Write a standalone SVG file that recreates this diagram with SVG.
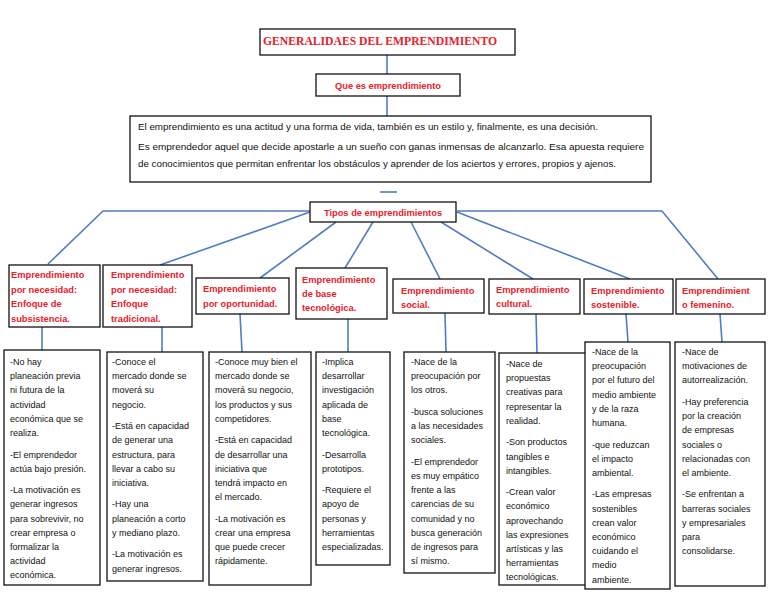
<svg xmlns="http://www.w3.org/2000/svg" width="768" height="594" viewBox="0 0 768 594">
<style>
rect{fill:#fff;stroke:#111;stroke-width:1.3}
.c line,.c polyline{stroke:#4f7cc4;stroke-width:1.6;fill:none}
.h{font-family:"Liberation Sans",Arial,sans-serif;font-weight:bold;font-size:9.3px;fill:#e8202a}
.t{font-family:"Liberation Sans",Arial,sans-serif;font-size:9px;fill:#111}
</style>
<rect x="0" y="0" width="768" height="594" style="stroke:none"/>
<g class="c">
<line x1="387" y1="55" x2="387" y2="74"/>
<line x1="387" y1="96" x2="387" y2="116"/>
<line x1="380" y1="192" x2="397" y2="192"/>
<polyline points="310,211 103,211 48,264"/>
<line x1="310" y1="212" x2="160" y2="265"/>
<line x1="336" y1="222" x2="260" y2="278"/>
<line x1="373" y1="222" x2="345" y2="268"/>
<line x1="411" y1="222" x2="440" y2="279"/>
<line x1="441" y1="222" x2="533" y2="279"/>
<line x1="457" y1="212" x2="630" y2="279"/>
<polyline points="457,211 662,211 718,279"/>
<line x1="42" y1="327" x2="42" y2="350"/>
<line x1="162" y1="327" x2="162" y2="352"/>
<line x1="240" y1="314" x2="242" y2="352"/>
<line x1="348" y1="319" x2="348" y2="352"/>
<line x1="445" y1="313" x2="446" y2="352"/>
<line x1="536" y1="314" x2="537" y2="353"/>
<line x1="626" y1="314" x2="628" y2="342"/>
<line x1="720" y1="314" x2="722" y2="342"/>
</g>
<g id="title"><rect x="260" y="29" width="255" height="26"/>
<text x="263" y="45" textLength="234" lengthAdjust="spacingAndGlyphs" style="font-family:'Liberation Serif',serif;font-weight:bold;font-size:11.5px;fill:#e8202a">GENERALIDAES DEL EMPRENDIMIENTO</text></g>
<g id="que"><rect x="316" y="74" width="144" height="22"/>
<text class="h" x="388" y="89" text-anchor="middle">Que es emprendimiento</text></g>
<g id="def"><rect x="130" y="116" width="521" height="66"/>
<text class="t" x="138" y="130" textLength="460" lengthAdjust="spacingAndGlyphs">El emprendimiento es una actitud y una forma de vida, también es un estilo y, finalmente, es una decisión.</text>
<text class="t" x="138" y="150" textLength="506" lengthAdjust="spacingAndGlyphs">Es emprendedor aquel que decide apostarle a un sueño con ganas inmensas de alcanzarlo. Esa apuesta requiere</text>
<text class="t" x="138" y="167" textLength="478" lengthAdjust="spacingAndGlyphs">de conocimientos que permitan enfrentar los obstáculos y aprender de los aciertos y errores, propios y ajenos.</text></g>
<g id="tipos"><rect x="310" y="202" width="146" height="20"/>
<text class="h" x="383" y="216" text-anchor="middle">Tipos de emprendimientos</text></g>

<g id="h1"><rect x="9" y="265" width="91" height="62"/>
<text class="h" x="11" y="278"><tspan x="11">Emprendimiento</tspan><tspan x="11" dy="14.5">por necesidad:</tspan><tspan x="11" dy="14.5">Enfoque de</tspan><tspan x="11" dy="14.5">subsistencia.</tspan></text></g>
<g id="h2"><rect x="103" y="265" width="89" height="62"/>
<text class="h" x="113" y="278"><tspan x="111">Emprendimiento</tspan><tspan x="111" dy="14.5">por necesidad:</tspan><tspan x="111" dy="14.5">Enfoque</tspan><tspan x="111" dy="14.5">tradicional.</tspan></text></g>
<g id="h3"><rect x="196" y="278" width="93" height="36"/>
<text class="h" y="292"><tspan x="203">Emprendimiento</tspan><tspan x="203" dy="14.5">por oportunidad.</tspan></text></g>
<g id="h4"><rect x="296" y="268" width="91" height="51"/>
<text class="h" y="283"><tspan x="302">Emprendimiento</tspan><tspan x="302" dy="14">de base</tspan><tspan x="302" dy="14">tecnológica.</tspan></text></g>
<g id="h5"><rect x="393" y="279" width="91" height="34"/>
<text class="h" y="294"><tspan x="401">Emprendimiento</tspan><tspan x="401" dy="14">social.</tspan></text></g>
<g id="h6"><rect x="489" y="279" width="91" height="35"/>
<text class="h" y="293"><tspan x="496">Emprendimiento</tspan><tspan x="496" dy="13.5">cultural.</tspan></text></g>
<g id="h7"><rect x="584" y="279" width="89" height="35"/>
<text class="h" y="294"><tspan x="591">Emprendimiento</tspan><tspan x="591" dy="14">sostenible.</tspan></text></g>
<g id="h8"><rect x="676" y="279" width="89" height="35"/>
<text class="h" y="294"><tspan x="682">Emprendimient</tspan><tspan x="682" dy="14">o femenino.</tspan></text></g>

<g id="d1"><rect x="4" y="350" width="96" height="235"/>
<text class="t" y="365"><tspan x="10">-No hay</tspan><tspan x="10" dy="14.2">planeación previa</tspan><tspan x="10" dy="14.2">ni futura de la</tspan><tspan x="10" dy="14.2">actividad</tspan><tspan x="10" dy="14.2">económica que se</tspan><tspan x="10" dy="14.2">realiza.</tspan><tspan x="10" dy="21.5">-El emprendedor</tspan><tspan x="10" dy="14.2">actúa bajo presión.</tspan><tspan x="10" dy="21.5">-La motivación es</tspan><tspan x="10" dy="14.2">generar ingresos</tspan><tspan x="10" dy="14.2">para sobrevivir, no</tspan><tspan x="10" dy="14.2">crear empresa o</tspan><tspan x="10" dy="14.2">formalizar la</tspan><tspan x="10" dy="14.2">actividad</tspan><tspan x="10" dy="14.2">económica.</tspan></text></g>
<g id="d2"><rect x="107" y="352" width="96" height="229"/>
<text class="t" y="365"><tspan x="112">-Conoce el</tspan><tspan x="112" dy="14.2">mercado donde se</tspan><tspan x="112" dy="14.2">moverá su</tspan><tspan x="112" dy="14.2">negocio.</tspan><tspan x="112" dy="21.5">-Está en capacidad</tspan><tspan x="112" dy="14.2">de generar una</tspan><tspan x="112" dy="14.2">estructura, para</tspan><tspan x="112" dy="14.2">llevar a cabo su</tspan><tspan x="112" dy="14.2">iniciativa.</tspan><tspan x="112" dy="21.5">-Hay una</tspan><tspan x="112" dy="14.2">planeación a corto</tspan><tspan x="112" dy="14.2">y mediano plazo.</tspan><tspan x="112" dy="21.5">-La motivación es</tspan><tspan x="112" dy="14.2">generar ingresos.</tspan></text></g>
<g id="d3"><rect x="209" y="352" width="102" height="233"/>
<text class="t" y="365"><tspan x="215">-Conoce muy bien el</tspan><tspan x="215" dy="14.2">mercado donde se</tspan><tspan x="215" dy="14.2">moverá su negocio,</tspan><tspan x="215" dy="14.2">los productos y sus</tspan><tspan x="215" dy="14.2">competidores.</tspan><tspan x="215" dy="21.5">-Está en capacidad</tspan><tspan x="215" dy="14.2">de desarrollar una</tspan><tspan x="215" dy="14.2">iniciativa que</tspan><tspan x="215" dy="14.2">tendrá impacto en</tspan><tspan x="215" dy="14.2">el mercado.</tspan><tspan x="215" dy="21.5">-La motivación es</tspan><tspan x="215" dy="14.2">crear una empresa</tspan><tspan x="215" dy="14.2">que puede crecer</tspan><tspan x="215" dy="14.2">rápidamente.</tspan></text></g>
<g id="d4"><rect x="316" y="352" width="74" height="213"/>
<text class="t" y="365"><tspan x="322">-Implica</tspan><tspan x="322" dy="14.2">desarrollar</tspan><tspan x="322" dy="14.2">investigación</tspan><tspan x="322" dy="14.2">aplicada de</tspan><tspan x="322" dy="14.2">base</tspan><tspan x="322" dy="14.2">tecnológica.</tspan><tspan x="322" dy="21.5">-Desarrolla</tspan><tspan x="322" dy="14.2">prototipos.</tspan><tspan x="322" dy="21.5">-Requiere el</tspan><tspan x="322" dy="14.2">apoyo de</tspan><tspan x="322" dy="14.2">personas y</tspan><tspan x="322" dy="14.2">herramientas</tspan><tspan x="322" dy="14.2">especializadas.</tspan></text></g>
<g id="d5"><rect x="404" y="352" width="91" height="221"/>
<text class="t" y="365"><tspan x="411">-Nace de la</tspan><tspan x="411" dy="14.2">preocupación por</tspan><tspan x="411" dy="14.2">los otros.</tspan><tspan x="411" dy="21.5">-busca soluciones</tspan><tspan x="411" dy="14.2">a las necesidades</tspan><tspan x="411" dy="14.2">sociales.</tspan><tspan x="411" dy="21.5">-El emprendedor</tspan><tspan x="411" dy="14.2">es muy empático</tspan><tspan x="411" dy="14.2">frente a las</tspan><tspan x="411" dy="14.2">carencias de su</tspan><tspan x="411" dy="14.2">comunidad y no</tspan><tspan x="411" dy="14.2">busca generación</tspan><tspan x="411" dy="14.2">de ingresos para</tspan><tspan x="411" dy="14.2">sí mismo.</tspan></text></g>
<g id="d6"><rect x="499" y="353" width="91" height="232"/>
<text class="t" y="367"><tspan x="506">-Nace de</tspan><tspan x="506" dy="14.2">propuestas</tspan><tspan x="506" dy="14.2">creativas para</tspan><tspan x="506" dy="14.2">representar la</tspan><tspan x="506" dy="14.2">realidad.</tspan><tspan x="506" dy="21.5">-Son productos</tspan><tspan x="506" dy="14.2">tangibles e</tspan><tspan x="506" dy="14.2">intangibles.</tspan><tspan x="506" dy="21.5">-Crean valor</tspan><tspan x="506" dy="14.2">económico</tspan><tspan x="506" dy="14.2">aprovechando</tspan><tspan x="506" dy="14.2">las expresiones</tspan><tspan x="506" dy="14.2">artísticas y las</tspan><tspan x="506" dy="14.2">herramientas</tspan><tspan x="506" dy="14.2">tecnológicas.</tspan></text></g>
<g id="d7"><rect x="585" y="342" width="85" height="247"/>
<text class="t" y="355"><tspan x="592">-Nace de la</tspan><tspan x="592" dy="14.2">preocupación</tspan><tspan x="592" dy="14.2">por el futuro del</tspan><tspan x="592" dy="14.2">medio ambiente</tspan><tspan x="592" dy="14.2">y de la raza</tspan><tspan x="592" dy="14.2">humana.</tspan><tspan x="592" dy="21.5">-que reduzcan</tspan><tspan x="592" dy="14.2">el impacto</tspan><tspan x="592" dy="14.2">ambiental.</tspan><tspan x="592" dy="21.5">-Las empresas</tspan><tspan x="592" dy="14.2">sostenibles</tspan><tspan x="592" dy="14.2">crean valor</tspan><tspan x="592" dy="14.2">económico</tspan><tspan x="592" dy="14.2">cuidando el</tspan><tspan x="592" dy="14.2">medio</tspan><tspan x="592" dy="14.2">ambiente.</tspan></text></g>
<g id="d8"><rect x="675" y="342" width="90" height="244"/>
<text class="t" y="355"><tspan x="682">-Nace de</tspan><tspan x="682" dy="14.2">motivaciones de</tspan><tspan x="682" dy="14.2">autorrealización.</tspan><tspan x="682" dy="21.5">-Hay preferencia</tspan><tspan x="682" dy="14.2">por la creación</tspan><tspan x="682" dy="14.2">de empresas</tspan><tspan x="682" dy="14.2">sociales o</tspan><tspan x="682" dy="14.2">relacionadas con</tspan><tspan x="682" dy="14.2">el ambiente.</tspan><tspan x="682" dy="21.5">-Se enfrentan a</tspan><tspan x="682" dy="14.2">barreras sociales</tspan><tspan x="682" dy="14.2">y empresariales</tspan><tspan x="682" dy="14.2">para</tspan><tspan x="682" dy="14.2">consolidarse.</tspan></text></g>
</svg>
